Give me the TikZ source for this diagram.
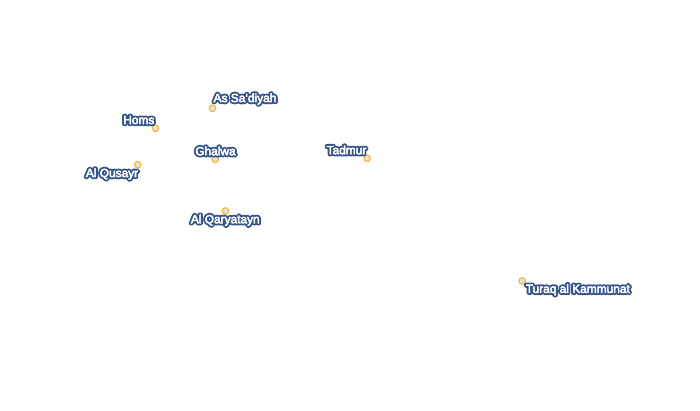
\documentclass[tikz,border=0pt]{standalone}
\usepackage{fontspec}
\setmainfont{Liberation Sans}
\newfontfamily\halofont[FakeBold=36]{Liberation Sans}
\newfontfamily\facefont[FakeBold=4]{Liberation Sans}
\definecolor{halo}{HTML}{34548A}
\definecolor{ptline}{HTML}{F4B62C}
\definecolor{ptfill}{HTML}{E2E2E2}
\newcommand{\placelabel}[1]{\special{pdf:code 1 j 1 J}\rlap{\halofont\textcolor{halo}{#1}}{\facefont\textcolor{white}{#1}}}
\tikzset{
  place/.style={circle,draw=ptline,fill=ptfill,line width=1.1pt,minimum size=6.6pt,inner sep=0pt},
  placename/.style={inner sep=0pt,font=\fontsize{11.9}{14}\selectfont}
}
\begin{document}
\begin{tikzpicture}[x=1pt,y=-1pt,line join=round,line cap=round]
\useasboundingbox[fill=white] (0,0) rectangle (700,410);
\node[place] (p1) at (212.5,108.3) {};
\node[place] (p2) at (155.5,128.3) {};
\node[place] (p3) at (137.7,164.6) {};
\node[place] (p4) at (215.2,159.3) {};
\node[place] (p5) at (367.2,158.3) {};
\node[place] (p6) at (225.5,211) {};
\node[place] (p7) at (522.2,281) {};
\node[placename] (l1) at (245,99) {\placelabel{As Sa‘diyah}};
\node[placename] (l2) at (138.8,120) {\placelabel{Homs}};
\node[placename] (l3) at (112,174) {\placelabel{Al Qusayr}};
\node[placename] (l4) at (215.5,151) {\placelabel{Ghalwa}};
\node[placename] (l5) at (346.5,150) {\placelabel{Tadmur}};
\node[placename] (l6) at (225.3,220.2) {\placelabel{Al Qaryatayn}};
\node[placename] (l7) at (577.8,289.8) {\placelabel{Turaq al Kammunat}};
\end{tikzpicture}
\end{document}
